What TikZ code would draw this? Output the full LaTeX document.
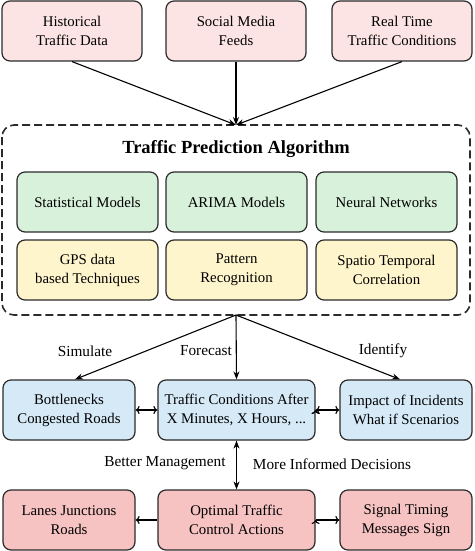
\documentclass[tikz,border=0pt]{standalone}
\usepackage{fontspec}
\setmainfont{Liberation Serif}
\usetikzlibrary{arrows.meta,positioning}
\definecolor{boxline}{HTML}{2B2B2B}
\definecolor{srcpink}{HTML}{FCE4E4}
\definecolor{modgreen}{HTML}{D8F1DA}
\definecolor{techyellow}{HTML}{FFF5CC}
\definecolor{outblue}{HTML}{D5E9F7}
\definecolor{actred}{HTML}{F6C2C2}
\tikzset{
  box/.style={draw=boxline,line width=1.2pt,rounded corners=8pt,align=center,
    minimum height=60pt,inner sep=2pt,font=\fontsize{14.8}{19}\selectfont},
  src/.style={box,fill=srcpink,minimum width=140pt},
  model/.style={box,fill=modgreen,minimum width=141pt},
  tech/.style={box,fill=techyellow,minimum width=141pt},
  res/.style={box,fill=outblue},
  act/.style={box,fill=actred},
  lbl/.style={font=\fontsize{15.3}{19}\selectfont,inner sep=1pt},
  arr/.style={-{Stealth[length=8pt,width=6pt]},line width=1.1pt,draw=black},
  side/.style={line width=1.1pt,draw=black},
}
\begin{document}
\begin{tikzpicture}[x=1pt,y=-1pt]
    \useasboundingbox (0,0) rectangle (474,551);
    % data sources
    \node[src] (hist) at (72,31) {Historical\\Traffic Data};
    \node[src] (soc) at (236,31) {Social Media\\Feeds};
    \node[src] (real) at (402,31) {Real Time\\Traffic Conditions};
    % prediction algorithm
    \draw[boxline,line width=1.6pt,dash pattern=on 8pt off 4pt,rounded corners=12pt]
      (2,125) rectangle (470,315);
    \coordinate (algtop) at (236,125);
    \coordinate (algbot) at (236,315);
    \node[font=\bfseries\fontsize{18.5}{22}\selectfont] (title) at (236,149) {Traffic Prediction Algorithm};
    \node[model] (stat) at (87.5,202) {Statistical Models};
    \node[model] (arima) at (236.5,202) {ARIMA Models};
    \node[model] (nn) at (386.5,202) {Neural Networks};
    \node[tech] (gps) at (87.5,270) {GPS data\\based Techniques};
    \node[tech] (patt) at (236.5,270) {Pattern\\Recognition};
    \node[tech] (spat) at (386.5,270) {Spatio Temporal\\Correlation};
    % results
    \node[res,minimum width=132pt] (bott) at (69,410) {Bottlenecks\\Congested Roads};
    \node[res,minimum width=157pt] (cond) at (236.5,410) {Traffic Conditions After\\X Minutes, X Hours, ...};
    \node[res,minimum width=132pt] (imp) at (406,410) {Impact of Incidents\\What if Scenarios};
    % actions
    \node[act,minimum width=132pt] (lanes) at (69,520) {Lanes Junctions\\Roads};
    \node[act,minimum width=157pt] (opt) at (236.5,520) {Optimal Traffic\\Control Actions};
    \node[act,minimum width=132pt] (sign) at (406,520) {Signal Timing\\Messages Sign};
    % labels
    \node[lbl] (sim) at (85,351) {Simulate};
    \node[lbl] (fore) at (206,351) {Forecast};
    \node[lbl] (ident) at (383,351) {Identify};
    \node[lbl] (better) at (165,463) {Better Management};
    \node[lbl] (inform) at (332,464) {More Informed Decisions};
    % connectors
    \path[arr]
    (hist.south) edge (algtop)
    (soc.south) edge (algtop)
    (real.south) edge (algtop)
    (algbot) edge ([xshift=6pt]bott.north)
    (algbot) edge (cond.north)
    (algbot) edge ([xshift=-6pt]imp.north)
    (cond.south) edge (opt.north);
    \path[side,-{To[length=4pt,width=8pt]}]
    (opt.west) edge (lanes.east)
    (opt.east) edge (sign.west);
    \path[side,{To[length=4pt,width=8pt]}-{To[length=4pt,width=8pt]}]
    (bott.east) edge (cond.west)
    (cond.east) edge (imp.west);
\end{tikzpicture}
\end{document}
